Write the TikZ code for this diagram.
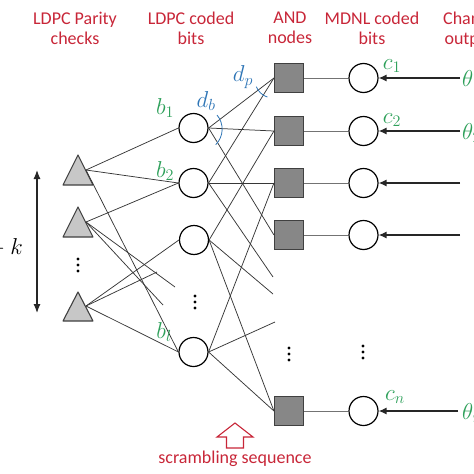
\RequirePackage{fix-cm}
\documentclass[tikz,border=0pt]{standalone}
\usepackage{fontspec}
\setmainfont{Carlito}
\usetikzlibrary{arrows.meta}
\definecolor{hdr}{RGB}{200,38,56}
\definecolor{lblg}{RGB}{46,160,90}
\definecolor{lblb}{RGB}{46,117,182}
\definecolor{edgec}{RGB}{55,55,55}
\tikzset{
  vdotpic/.pic={\foreach \d in {-6,0,6} \fill[black] (0,\d) circle[radius=1.7];}
}
\begin{document}
\begin{tikzpicture}[x=1pt,y=-1pt,
  font=\fontsize{18}{20}\selectfont,
  header/.style={text=hdr, align=center, anchor=north, inner sep=0pt},
  vnode/.style={circle, draw=black, line width=1.2pt, fill=white, minimum size=29pt, inner sep=0pt},
  andnode/.style={rectangle, draw=black!75, line width=1.1pt, fill=black!47, minimum size=29pt, inner sep=0pt},
  edge/.style={draw=edgec, line width=0.75pt},
  link/.style={draw=black!55, line width=0.75pt},
  chan/.style={draw=black!85, line width=1.3pt, -{Latex[length=8pt,width=7pt]}},
  mathlbl/.style={font=\fontsize{23}{25}\selectfont, inner sep=0pt},
  glabel/.style={mathlbl, text=lblg},
  blabel/.style={mathlbl, text=lblb},
  tri/.style={draw=black!75, fill=black!22, line width=1.1pt, line join=round},
  arc/.style={draw=lblb, line width=0.8pt}
]
\useasboundingbox (0,0) rectangle (474,474);
\clip (0,0) rectangle (474,474);

% headers
\node[header] (h1) at (75,12) {LDPC Parity\\checks};
\node[header] (h2) at (191,12) {LDPC coded\\bits};
\node[header] (h3) at (290,12) {AND\\nodes};
\node[header] (h4) at (372,12) {MDNL coded\\bits};
\node[header] (h5) at (473,12) {Channel\\outputs};

% parity check triangles
\draw[tri] (63,185) -- (93,185) -- (78,155) -- cycle;
\draw[tri] (63,237) -- (93,237) -- (78,207) -- cycle;
\draw[tri] (63,321) -- (93,321) -- (78,292) -- cycle;
\coordinate (T1) at (86,170);
\coordinate (T2) at (86,222);
\coordinate (T3) at (86,306);
\pic at (78,265) {vdotpic};

% LDPC coded bits
\node[vnode] (V1) at (193.5,128) {};
\node[vnode] (V2) at (193.5,183) {};
\node[vnode] (V3) at (194,240) {};
\node[vnode] (Vl) at (193.5,352) {};
\pic at (195,302) {vdotpic};

% AND nodes
\node[andnode] (A1) at (289,78) {};
\node[andnode] (A2) at (289,131) {};
\node[andnode] (A3) at (289,183) {};
\node[andnode] (A4) at (289,235) {};
\node[andnode] (An) at (289,411) {};
\pic at (289,354) {vdotpic};

% MDNL coded bits
\node[vnode] (C1) at (363.5,78) {};
\node[vnode] (C2) at (363.5,131) {};
\node[vnode] (C3) at (363.5,183) {};
\node[vnode] (C4) at (363.5,235) {};
\node[vnode] (Cn) at (363.5,411) {};
\pic at (363,352) {vdotpic};

% free ends
\coordinate (Q1) at (175,287);
\coordinate (Q2) at (163,305);
\coordinate (Q3) at (157,272);
\coordinate (P1) at (273,277);
\coordinate (P2) at (273,294);
\coordinate (P3) at (275,322);
\coordinate (R1) at (460,78);
\coordinate (R2) at (460,131);
\coordinate (R3) at (460,183);
\coordinate (R4) at (460,235);
\coordinate (Rn) at (458,411);
\coordinate (K1) at (37,170);
\coordinate (K2) at (37,313);

% left edges
\draw[edge] (T1) -- (V1.west);
\draw[edge] (T1) -- (V2.west);
\draw[edge] (T1) -- (Vl.west);
\draw[edge] (T2) -- (V2.west);
\draw[edge] (T2) -- (Q1);
\draw[edge] (T2) -- (Q2);
\draw[edge] (T3) -- (V3.west);
\draw[edge] (T3) -- (Q3);
\draw[edge] (T3) -- (Vl.west);

% right edges
\draw[edge] (V1.east) -- (A1.west);
\draw[edge] (V1.east) -- (A2.west);
\draw[edge] (V1.east) -- (A4.west);
\draw[edge] (V2.east) -- (A1.west);
\draw[edge] (V2.east) -- (A3.west);
\draw[edge] (V2.east) -- (P1);
\draw[edge] (V3.east) -- (A2.west);
\draw[edge] (V3.east) -- (P2);
\draw[edge] (V3.east) -- (An.west);
\draw[edge] (Vl.east) -- (A3.west);
\draw[edge] (Vl.east) -- (P3);
\draw[edge] (Vl.east) -- (An.west);

% AND to MDNL
\draw[link] (A1.east) -- (C1.west);
\draw[link] (A2.east) -- (C2.west);
\draw[link] (A3.east) -- (C3.west);
\draw[link] (A4.east) -- (C4.west);
\draw[link] (An.east) -- (Cn.west);

% channel arrows
\draw[chan] (R1) -- (C1.east);
\draw[chan] (R2) -- (C2.east);
\draw[chan] (R3) -- (C3.east);
\draw[chan] (R4) -- (C4.east);
\draw[chan] (Rn) -- (Cn.east);

% double arrow and k
\draw[line width=1.2pt, black!85, {Latex[length=9pt,width=7pt]}-{Latex[length=9pt,width=7pt]}] (K1) -- (K2);
\node[mathlbl, anchor=east] (klab) at (23,247) {$n-k$};

% labels
\node[glabel] (lb1) at (165,108) {$b_1$};
\node[glabel] (lb2) at (165,171) {$b_2$};
\node[glabel] (lbl) at (164,332) {$b_l$};
\node[blabel] (ldb) at (206,101) {$d_b$};
\node[blabel] (ldp) at (243,77) {$d_p$};
\node[glabel] (lc1) at (392,66) {$c_1$};
\node[glabel] (lc2) at (392,120) {$c_2$};
\node[glabel] (lcn) at (395,397) {$c_n$};
\node[glabel, anchor=west] (th1) at (462,80) {$\theta_1$};
\node[glabel, anchor=west] (th2) at (462,133) {$\theta_2$};
\node[glabel, anchor=west] (thn) at (462,413) {$\theta_n$};

% angle arcs
\draw[arc] (217,115) arc[start angle=-40, end angle=45, radius=22];
\draw[arc] (256.3,86.7) arc[start angle=158, end angle=108, radius=18];

% scrambling sequence
\draw[draw=hdr, line width=1.1pt, fill=white, line join=miter]
  (235,423) -- (253,437) -- (243.5,437) -- (243.5,448) -- (226.5,448) -- (226.5,437) -- (217,437) -- cycle;
\node[text=hdr, anchor=base, inner sep=0pt] (scr) at (235,463) {scrambling sequence};
\end{tikzpicture}
\end{document}
